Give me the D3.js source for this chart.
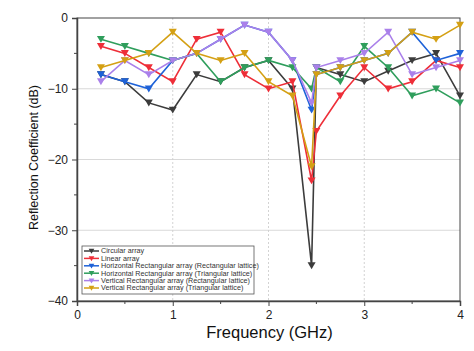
<!DOCTYPE html>
<html>
  <head>
    <meta charset="utf-8" />
    <title>Reflection Coefficient</title>
    <script src="https://d3js.org/d3.v7.min.js"></script>
    <style>
      body {
        margin: 0;
        font-family: "Liberation Sans", Arial, sans-serif;
        background: #fff;
      }
      svg {
        display: block;
      }
    </style>
  </head>
  <body>
    <svg width="474" height="351"></svg>

    <script>
      // frequency points (GHz)
      const freq = [0.25, 0.5, 0.75, 1.0, 1.25, 1.5, 1.75, 2.0, 2.25, 2.45, 2.5, 2.75, 3.0, 3.25, 3.5, 3.75, 4.0];

      // reflection coefficient (dB) per array type
      const circular = [-8, -9, -12, -13, -8, -9, -7, -6, -10, -35, -7, -8, -9, -7.5, -6, -5, -11];
      const linear = [-4, -5, -7, -9, -3, -2, -8, -10, -9, -23, -16, -11, -7, -10, -9, -6, -7];
      const hRectRect = [-8, -9, -10, -6, -5, -3, -1, -2, -6, -13, -8, -7, -6, -5, -2, -6, -5];
      const hRectTri = [-3, -4, -5, -6, -5, -9, -7, -6, -7, -10, -7, -9, -4, -7, -11, -10, -12];
      const vRectRect = [-9, -6, -8, -6, -5, -3, -1, -2, -6, -12, -7, -6, -5, -2, -8, -7, -6];
      const vRectTri = [-7, -6, -5, -2, -5, -6, -5, -9, -11, -21, -8, -7, -6, -5, -2, -3, -1];

      const seriesNames = [
        "Circular array",
        "Linear array",
        "Horizontal Rectangular array (Rectangular lattice)",
        "Horizontal Rectangular array (Triangular lattice)",
        "Vertical Rectangular array (Rectangular lattice)",
        "Vertical Rectangular array (Triangular lattice)"
      ];
      const seriesValues = [circular, linear, hRectRect, hRectTri, vRectRect, vRectTri];
      const colors = ["#3c3c3c", "#ee2e38", "#1e62d8", "#2f9e5c", "#aa80ea", "#d4a014"];

      const xTicks = [0, 1, 2, 3, 4];
      const yTicks = [0, -10, -20, -30, -40];

      const svg = d3.select("svg");
      const width = +svg.attr("width");
      const height = +svg.attr("height");
      const margin = { top: 18, right: 14, bottom: 50, left: 77 };
      const innerWidth = width - margin.left - margin.right;
      const innerHeight = height - margin.top - margin.bottom;

      const g = svg.append("g")
        .attr("transform", `translate(${margin.left}, ${margin.top})`);

      const xScale = d3.scaleLinear().domain([0, 4]).range([0, innerWidth]);
      const yScale = d3.scaleLinear().domain([-40, 0]).range([innerHeight, 0]);

      // grid
      g.append("g").selectAll("line")
        .data(xTicks.slice(1, -1))
        .join("line")
        .attr("x1", d => xScale(d)).attr("x2", d => xScale(d))
        .attr("y1", 0).attr("y2", innerHeight)
        .attr("stroke", "#c8c8c8").attr("stroke-width", 0.8)
        .attr("stroke-dasharray", "2,2");
      g.append("g").selectAll("line")
        .data(yTicks.slice(1, -1))
        .join("line")
        .attr("x1", 0).attr("x2", innerWidth)
        .attr("y1", d => yScale(d)).attr("y2", d => yScale(d))
        .attr("stroke", "#cfcfcf").attr("stroke-width", 0.8);

      // frame
      g.append("rect")
        .attr("width", innerWidth).attr("height", innerHeight)
        .attr("fill", "none").attr("stroke", "#444").attr("stroke-width", 1);

      // axes
      const fmt = d => d < 0 ? "\u2212" + Math.abs(d) : d;
      const xAxis = d3.axisBottom(xScale).tickValues(xTicks).tickFormat(fmt).tickSize(5).tickPadding(4);
      const yAxis = d3.axisLeft(yScale).tickValues(yTicks).tickFormat(fmt).tickSize(5).tickPadding(4);

      const xAxisGroup = g.append("g").attr("transform", `translate(0, ${innerHeight})`).call(xAxis);
      const yAxisGroup = g.append("g").call(yAxis);

      // minor ticks
      xAxisGroup.append("g").selectAll("line")
        .data(d3.range(0.5, 4, 1))
        .join("line")
        .attr("x1", d => xScale(d)).attr("x2", d => xScale(d))
        .attr("y1", 0).attr("y2", 3).attr("stroke", "#444");
      yAxisGroup.append("g").selectAll("line")
        .data(d3.range(-35, 0, 10))
        .join("line")
        .attr("y1", d => yScale(d)).attr("y2", d => yScale(d))
        .attr("x1", 0).attr("x2", -3).attr("stroke", "#444");

      [xAxisGroup, yAxisGroup].forEach(ax => {
        ax.select(".domain").attr("stroke", "#444").attr("stroke-width", 1.5);
        ax.selectAll(".tick line").attr("stroke", "#444");
        ax.selectAll("text")
          .attr("font-family", "'Liberation Sans', Arial, sans-serif")
          .attr("font-size", 12).attr("fill", "#222");
      });

      // axis titles
      svg.append("text")
        .attr("x", margin.left + xScale(2) + 1)
        .attr("y", 338)
        .attr("text-anchor", "middle")
        .attr("font-size", 16.5)
        .attr("fill", "#111")
        .text("Frequency (GHz)");
      svg.append("text")
        .attr("transform", `translate(38, ${margin.top + yScale(-20) - 2}) rotate(-90)`)
        .attr("text-anchor", "middle")
        .attr("font-size", 12.5)
        .attr("fill", "#111")
        .text("Reflection Coefficient (dB)");

      // lines and markers
      const line = d3.line()
        .x((d, i) => xScale(freq[i]))
        .y(d => yScale(d));
      const tri = d3.symbol().type(d3.symbolTriangle).size(28);

      seriesValues.forEach((vals, k) => {
        g.append("path")
          .datum(vals)
          .attr("d", line)
          .attr("fill", "none")
          .attr("stroke", colors[k])
          .attr("stroke-width", 1.6);
        g.append("g").selectAll("path")
          .data(vals)
          .join("path")
          .attr("d", tri)
          .attr("transform", (d, i) => `translate(${xScale(freq[i])}, ${yScale(d) - 1}) rotate(180)`)
          .attr("fill", colors[k]);
      });

      // legend
      const legend = svg.append("g").attr("transform", "translate(82, 246)");
      legend.append("rect")
        .attr("width", 172).attr("height", 48)
        .attr("fill", "#fff").attr("stroke", "#555").attr("stroke-width", 0.8);
      const rowY = d3.scaleLinear().domain([0, 5]).range([5, 42]);
      seriesNames.forEach((name, k) => {
        const row = legend.append("g").attr("transform", `translate(0, ${rowY(k)})`);
        row.append("line")
          .attr("x1", 2).attr("x2", 17)
          .attr("stroke", colors[k]).attr("stroke-width", 1.5);
        row.append("path")
          .attr("d", d3.symbol().type(d3.symbolTriangle).size(14))
          .attr("transform", "translate(9.5, -0.5) rotate(180)")
          .attr("fill", colors[k]);
        row.append("text")
          .attr("x", 19).attr("y", 2.4)
          .attr("font-size", 7.2)
          .attr("fill", "#333")
          .text(name);
      });
    </script>
  </body>
</html>
